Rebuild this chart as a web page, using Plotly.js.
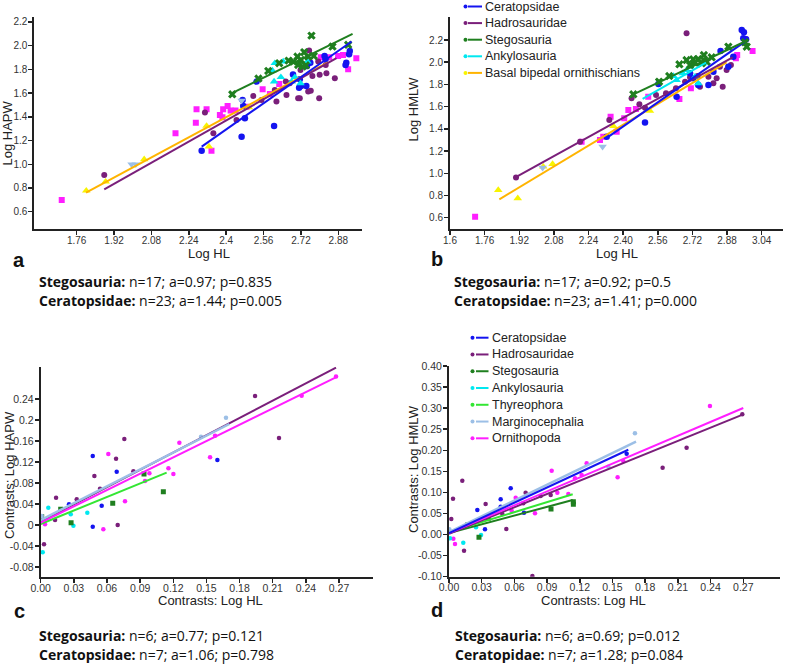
<!DOCTYPE html>
<html><head><meta charset="utf-8">
<script src="https://cdn.plot.ly/plotly-3.0.1.min.js"></script>
<style>html,body{margin:0;padding:0;background:#fff}#c{width:785px;height:665px}</style>
</head><body><div id="c"></div>
<script>
// ---------- DATA ----------
// Panel a: Log HL vs Log HAPW
const aCeraX = [2.295,2.466,2.470,2.473,2.480,2.530,2.605,2.686,2.712,2.743,2.718,2.746,2.760,2.821,2.825,2.914,2.911,2.926,2.929,2.715];
const aCeraY = [1.115,1.233,1.543,1.492,1.388,1.697,1.323,1.758,1.646,1.660,1.660,1.829,1.857,1.913,1.885,1.857,1.838,1.927,1.955,1.716];
const aHadroX = [1.878,2.309,2.345,2.444,2.516,2.551,2.608,2.615,2.655,2.672,2.658,2.708,2.715,2.718,2.751,2.762,2.798,2.755,2.769,2.865,2.826,2.829,2.800,2.722,2.794];
const aHadroY = [0.910,1.436,1.261,1.374,1.576,1.543,1.627,1.529,1.697,1.683,1.585,1.556,1.556,1.795,1.613,1.621,1.556,1.959,1.745,1.725,1.838,1.768,1.754,1.661,1.866];
const aStegX = [2.426,2.538,2.580,2.627,2.667,2.705,2.734,2.765,2.720,2.741,2.727,2.751,2.775,2.855,2.922,2.708,2.687];
const aStegY = [1.590,1.723,1.787,1.852,1.874,1.908,1.945,2.085,1.880,1.835,1.824,1.908,1.914,1.993,2.007,1.838,1.866];
const aAnkyX = [2.608,2.644,2.605,2.634,2.694,2.718,2.748,2.718,2.598,2.680];
const aAnkyY = [1.852,1.866,1.697,1.734,1.734,1.683,1.866,1.858,1.790,1.697];
const aBasalX = [1.801,1.884,2.049,2.326,2.316,2.497];
const aBasalY = [0.777,0.853,1.042,1.149,1.323,1.480];
const aOrnithX = [1.696,2.183,2.273,2.270,2.316,2.337,2.387,2.384,2.406,2.419,2.440,2.487,2.556,2.587,2.627,2.805,2.841,2.879,2.900,2.922,2.957,2.373];
const aOrnithY = [0.699,1.261,1.464,1.351,1.464,1.115,1.464,1.396,1.492,1.453,1.453,1.486,1.633,1.593,1.677,1.902,1.902,1.914,1.922,1.801,1.894,1.416];
const aMargX = [1.995,2.013,2.466];
const aMargY = [1.000,1.000,1.537];
const aFitStegX = [2.416,2.941], aFitStegY = [1.591,2.100];
const aFitCeraX = [2.295,2.937], aFitCeraY = [1.149,2.035];
const aFitHadroX = [1.878,2.872], aFitHadroY = [0.789,1.895];
const aFitBasalX = [1.800,2.836], aFitBasalY = [0.760,1.860];

// Panel b: Log HL vs Log HMLW
const bCeraX = [2.501,2.563,2.747,2.794,2.850,2.948,2.958,2.955,2.968,2.724,2.817,2.886,2.909,2.647,2.324,2.709];
const bCeraY = [1.458,1.804,1.795,1.795,2.101,2.290,2.269,2.215,2.206,1.855,1.915,1.960,2.050,1.690,1.329,1.900];
const bHadroX = [1.905,2.201,2.336,2.439,2.475,2.501,2.552,2.598,2.644,2.693,2.709,2.755,2.794,2.832,2.860,2.898,2.878,2.744,2.817,2.847,2.686];
const bHadroY = [0.963,1.284,1.480,1.675,1.621,1.591,1.705,1.720,1.765,2.260,1.864,1.780,1.870,1.855,1.780,1.975,1.930,1.876,1.810,1.960,1.825];
const bStegX = [2.447,2.566,2.613,2.660,2.693,2.732,2.747,2.773,2.763,2.786,2.809,2.886,2.963,2.971,2.709,2.724,2.773];
const bStegY = [1.711,1.825,1.876,1.981,2.020,1.996,2.029,2.065,1.990,2.005,2.044,2.140,2.179,2.140,1.975,2.026,2.020];
const bAnkyX = [2.632,2.675,2.693,2.732,2.747,2.770,2.647,2.709];
const bAnkyY = [1.876,1.900,1.930,1.870,1.810,1.990,1.840,1.960];
const bBasalX = [1.823,1.913,2.031,2.074,2.524,2.355];
const bBasalY = [0.849,0.774,1.059,1.083,1.561,1.425];
const bOrnithX = [1.716,2.208,2.308,2.342,2.370,2.424,2.459,2.405,2.516,2.660,2.713,2.921,2.963,2.998,2.927,2.293];
const bOrnithY = [0.609,1.284,1.329,1.510,1.374,1.570,1.579,1.495,1.690,1.669,1.765,2.035,2.206,2.101,2.065,1.299];
const bMargX = [2.305,2.028];
const bMargY = [1.239,1.050];
const bFitStegX = [2.447,2.978], bFitStegY = [1.711,2.200];
const bFitAnkyX = [2.490,2.783], bFitAnkyY = [1.669,1.996];
const bFitCeraX = [2.321,2.963], bFitCeraY = [1.314,2.185];
const bFitHadroX = [1.900,2.906], bFitHadroY = [0.960,2.044];
const bFitBasalX = [1.828,2.878], bFitBasalY = [0.765,1.999];

// Panel c: contrasts Log HL vs Log HAPW
const cCeraX = [0.0471,0.0688,0.0256,0.0552,0.0471,0.1599];
const cCeraY = [0.1314,0.1016,0.0394,0.0368,-0.0032,0.1238];
const cHadroX = [0.0030,0.0139,0.0130,0.0326,0.0486,0.0537,0.0682,0.0757,0.0697,0.0839,0.1940,0.2157];
const cHadroY = [-0.0368,0.0521,0.0095,0.0489,0.0933,0.0692,0.1264,0.1638,0.0,0.1022,0.2457,0.1657];
const cStegX = [0.0181,0.0275,0.0652,0.1110,0.0935,0.0009];
const cStegY = [0.0298,0.0044,0.0413,0.0635,0.0972,0.0159];
const cAnkyX = [0.0069,0.0018,0.0272,0.0296,0.0422];
const cAnkyY = [0.0330,-0.0521,0.0203,-0.0013,0.0235];
const cOrnithX = [0.0024,0.0039,0.0612,0.0763,0.0567,0.0944,0.0984,0.1156,0.1201,0.1255,0.1533,0.1578,0.2362,0.2673];
const cOrnithY = [0.0108,0.0013,0.1353,0.0451,-0.0083,0.0838,0.0984,0.1080,0.0972,0.1568,0.1289,0.1702,0.2464,0.2826];
const cMargX = [0.0009,0.1451,0.1677];
const cMargY = [0.0171,0.1683,0.2045];
const cFitHadroX = [0,0.2673], cFitHadroY = [0.0064,0.2997];
const cFitOrnithX = [0,0.2685], cFitOrnithY = [0.0044,0.2826];
const cFitMargX = [0,0.1708], cFitMargY = [0.0095,0.1924];
const cFitThyreoX = [0,0.1140], cFitThyreoY = [0.0019,0.0997];

// Panel d: contrasts Log HL vs Log HMLW
const dCeraX = [0.0260,0.0330,0.0474,0.0474,0.0566,0.1630,0.0688];
const dCeraY = [0.0583,0.0124,0.0836,0.0662,0.1097,0.1920,0.0520];
const dHadroX = [0.0021,0.0037,0.0122,0.0138,0.0336,0.0526,0.0703,0.0489,0.0765,0.0841,0.0933,0.1960,0.2180,0.2691,0.0682];
const dHadroY = [0.0369,0.0852,0.1279,-0.0382,0.0725,0.0132,0.0994,0.0488,-0.0983,0.0915,0.0939,0.1587,0.2062,0.2853,0.0741];
const dStegX = [0.0171,0.0275,0.0361,0.0936,0.1141,0.1141];
const dStegY = [0.0227,-0.0066,0.0385,0.0607,0.0717,0.0781];
const dAnkyX = [0.0009,0.0131,0.0294,0.0248];
const dAnkyY = [-0.0090,-0.0192,-0.0010,0.0172];
const dOrnithX = [0.0040,0.0055,0.0612,0.0575,0.0789,0.0942,0.0994,0.1095,0.1156,0.1217,0.1263,0.1547,0.1599,0.2394];
const dOrnithY = [-0.0097,-0.0224,0.0876,0.0567,0.0504,0.1516,0.0994,0.0963,0.1334,0.1413,0.1690,0.1358,0.1746,0.3051];
const dMargX = [0.0003,0.1462,0.1706];
const dMargY = [0.0124,0.1611,0.2402];
const dFitCeraX = [0,0.1645], dFitCeraY = [0.0034,0.2012];
const dFitMargX = [0,0.1716], dFitMargY = [0.0058,0.2204];
const dFitOrnithX = [0,0.2700], dFitOrnithY = [0.0034,0.3004];
const dFitHadroX = [0,0.2700], dFitHadroY = [0.0018,0.2853];
const dFitThyreoX = [0,0.1135], dFitThyreoY = [0.0058,0.0955];
const dFitStegX = [0,0.1135], dFitStegY = [0.0034,0.0820];

// Tick labels
const abYTicks = [0.6,0.8,1.0,1.2,1.4,1.6,1.8,2.0,2.2];
const abYLabels = ['0.6','0.8','1.0','1.2','1.4','1.6','1.8','2.0','2.2'];
const aXTicks = [1.76,1.92,2.08,2.24,2.4,2.56,2.72,2.88];
const aXLabels = ['1.76','1.92','2.08','2.24','2.4','2.56','2.72','2.88'];
const bXTicks = [1.6,1.76,1.92,2.08,2.24,2.4,2.56,2.72,2.88,3.04];
const bXLabels = ['1.6','1.76','1.92','2.08','2.24','2.40','2.56','2.72','2.88','3.04'];
const cdXTicks = [0,0.03,0.06,0.09,0.12,0.15,0.18,0.21,0.24,0.27];
const cdXLabels = ['0.00','0.03','0.06','0.09','0.12','0.15','0.18','0.21','0.24','0.27'];
const cYTicks = [-0.08,-0.04,0,0.04,0.08,0.12,0.16,0.2,0.24];
const cYLabels = ['-0.08','-0.04','0','0.04','0.08','0.12','0.16','0.2','0.24'];
const dYTicks = [-0.10,-0.05,0,0.05,0.10,0.15,0.20,0.25,0.30,0.35,0.40];
const dYLabels = ['-0.10','-0.05','0.00','0.05','0.10','0.15','0.20','0.25','0.30','0.35','0.40'];

// Legends and texts
const bLegendNames = ['Ceratopsidae','Hadrosauridae','Stegosauria','Ankylosauria','Basal bipedal ornithischians'];
const dLegendNames = ['Ceratopsidae','Hadrosauridae','Stegosauria','Ankylosauria','Thyreophora','Marginocephalia','Ornithopoda'];
const statsA = ['<b>Stegosauria:</b> n=17; a=0.97; p=0.835','<b>Ceratopsidae:</b> n=23; a=1.44; p=0.005'];
const statsB = ['<b>Stegosauria:</b> n=17; a=0.92; p=0.5','<b>Ceratopsidae:</b> n=23; a=1.41; p=0.000'];
const statsC = ['<b>Stegosauria:</b> n=6; a=0.77; p=0.121','<b>Ceratopsidae:</b> n=7; a=1.06; p=0.798'];
const statsD = ['<b>Stegosauria:</b> n=6; a=0.69; p=0.012','<b>Ceratopidae:</b> n=7; a=1.28; p=0.084'];

// ---------- STYLE ----------
const COL = {
  cera:'#1414f0', hadro:'#7a1f7a', steg:'#1f7f1f', anky:'#00e8f0',
  basal:'#f8f400', basalLine:'#ffb400', ornith:'#ff1eff', marg:'#9cbfe6', thyreo:'#33e633'
};
const W = 785, H = 665;
const dx = (a,b)=>[a/W,b/W];
const dy = (top,bot)=>[1-bot/H,1-top/H];

const traces = [];
function pts(x,y,ax,color,symbol,size){
  traces.push({type:'scatter',mode:'markers',x:x,y:y,xaxis:'x'+ax,yaxis:'y'+ax,
    marker:{color:color,symbol:symbol,size:size,line:{width:0}},hoverinfo:'skip'});
}
function fit(x,y,ax,color,w){
  traces.push({type:'scatter',mode:'lines',x:x,y:y,xaxis:'x'+ax,yaxis:'y'+ax,
    line:{color:color,width:w||2},hoverinfo:'skip'});
}
// panel a
pts(aOrnithX,aOrnithY,'',COL.ornith,'square',6);
pts(aHadroX,aHadroY,'',COL.hadro,'circle',6);
pts(aCeraX,aCeraY,'',COL.cera,'circle',6.5);
pts(aAnkyX,aAnkyY,'',COL.anky,'triangle-up',7.5);
pts(aBasalX,aBasalY,'',COL.basal,'triangle-up',7.5);
pts(aMargX,aMargY,'',COL.marg,'triangle-down',7.5);
pts(aStegX,aStegY,'',COL.steg,'x',7.5);
fit(aFitBasalX,aFitBasalY,'',COL.basalLine);
fit(aFitHadroX,aFitHadroY,'',COL.hadro);
fit(aFitCeraX,aFitCeraY,'',COL.cera);
fit(aFitStegX,aFitStegY,'',COL.steg);
// panel b
pts(bOrnithX,bOrnithY,'2',COL.ornith,'square',6);
pts(bHadroX,bHadroY,'2',COL.hadro,'circle',6);
pts(bCeraX,bCeraY,'2',COL.cera,'circle',6.5);
pts(bAnkyX,bAnkyY,'2',COL.anky,'triangle-up',7.5);
pts(bBasalX,bBasalY,'2',COL.basal,'triangle-up',7.5);
pts(bMargX,bMargY,'2',COL.marg,'triangle-down',7.5);
pts(bStegX,bStegY,'2',COL.steg,'x',7.5);
fit(bFitBasalX,bFitBasalY,'2',COL.basalLine);
fit(bFitHadroX,bFitHadroY,'2',COL.hadro);
fit(bFitCeraX,bFitCeraY,'2',COL.cera);
fit(bFitAnkyX,bFitAnkyY,'2',COL.anky);
fit(bFitStegX,bFitStegY,'2',COL.steg);
// panel c
pts(cHadroX,cHadroY,'3',COL.hadro,'circle',4.5);
pts(cOrnithX,cOrnithY,'3',COL.ornith,'circle',4.5);
pts(cCeraX,cCeraY,'3',COL.cera,'circle',4.5);
pts(cAnkyX,cAnkyY,'3',COL.anky,'circle',4.5);
pts(cStegX,cStegY,'3',COL.steg,'square',5);
pts(cMargX,cMargY,'3',COL.marg,'circle',4.5);
fit(cFitThyreoX,cFitThyreoY,'3',COL.thyreo);
fit(cFitHadroX,cFitHadroY,'3',COL.hadro);
fit(cFitOrnithX,cFitOrnithY,'3',COL.ornith);
fit(cFitMargX,cFitMargY,'3',COL.marg,2.5);
// panel d
pts(dHadroX,dHadroY,'4',COL.hadro,'circle',4.5);
pts(dOrnithX,dOrnithY,'4',COL.ornith,'circle',4.5);
pts(dCeraX,dCeraY,'4',COL.cera,'circle',4.5);
pts(dAnkyX,dAnkyY,'4',COL.anky,'circle',4.5);
pts(dStegX,dStegY,'4',COL.steg,'square',5);
pts(dMargX,dMargY,'4',COL.marg,'circle',4.5);
fit(dFitStegX,dFitStegY,'4',COL.steg);
fit(dFitThyreoX,dFitThyreoY,'4',COL.thyreo);
fit(dFitHadroX,dFitHadroY,'4',COL.hadro);
fit(dFitOrnithX,dFitOrnithY,'4',COL.ornith);
fit(dFitMargX,dFitMargY,'4',COL.marg,2.5);
fit(dFitCeraX,dFitCeraY,'4',COL.cera);

// legends on a full-page pixel overlay (x5/y5)
function legend(names, dotCols, lineCols, y0, gap, dotX, lineX0, lineX1, textX){
  const ann = [];
  names.forEach((n,i)=>{
    const y = y0 + i*gap;
    traces.push({type:'scatter',mode:'lines',x:[lineX0,lineX1],y:[y,y],xaxis:'x5',yaxis:'y5',
      line:{color:lineCols[i],width:2},hoverinfo:'skip'});
    traces.push({type:'scatter',mode:'markers',x:[dotX],y:[y],xaxis:'x5',yaxis:'y5',
      marker:{color:dotCols[i],size:4},hoverinfo:'skip'});
    ann.push({xref:'x5',yref:'y5',x:textX,y:y,text:n,showarrow:false,xanchor:'left',yanchor:'middle',
      font:{family:'Liberation Sans, Arial, sans-serif',size:12.5,color:'#222'}});
  });
  return ann;
}
const annB = legend(bLegendNames,[COL.cera,COL.hadro,COL.steg,COL.anky,COL.basal],
  [COL.cera,COL.hadro,COL.steg,COL.anky,COL.basalLine],6.5,16.6,465.5,468,482,483);
const annD = legend(dLegendNames,[COL.cera,COL.hadro,COL.steg,COL.anky,COL.thyreo,COL.marg,COL.ornith],
  [COL.cera,COL.hadro,COL.steg,COL.anky,COL.thyreo,COL.marg,COL.ornith],337.7,16.77,472.5,476,488.5,489.5);

function txt(x,y,t,opts){
  return Object.assign({xref:'x5',yref:'y5',x:x,y:y,text:t,showarrow:false,xanchor:'center',yanchor:'middle',
    font:{family:'Liberation Sans, Arial, sans-serif',size:13,color:'#222'}},opts||{});
}
const statFont = {family:'Open Sans, sans-serif',size:14,color:'#111'};
const letFont = {family:'Liberation Sans, Arial, sans-serif',size:20,color:'#111'};
const anns = [].concat(annB, annD, [
  txt(209,253,'Log HL'), txt(616.5,253,'Log HL'),
  txt(210.8,600.5,'Contrasts: Log HL'), txt(593,600.5,'Contrasts: Log HL'),
  txt(6.5,133,'Log HAPW',{textangle:-90}), txt(412.5,109,'Log HMLW',{textangle:-90}),
  txt(9,475,'Contrasts: Log HAPW',{textangle:-90}), txt(413.5,469.5,'Contrasts: Log HMLW',{textangle:-90}),
  txt(18.5,260,'<b>a</b>',{font:letFont}), txt(437,259,'<b>b</b>',{font:letFont}),
  txt(19.5,610.5,'<b>c</b>',{font:letFont}), txt(437,610,'<b>d</b>',{font:letFont}),
  txt(37,281,statsA[0],{xanchor:'left',font:statFont}), txt(37,300.5,statsA[1],{xanchor:'left',font:statFont}),
  txt(451.5,281,statsB[0],{xanchor:'left',font:statFont}), txt(451.5,300.5,statsB[1],{xanchor:'left',font:statFont}),
  txt(37,635,statsC[0],{xanchor:'left',font:statFont}), txt(37,654.5,statsC[1],{xanchor:'left',font:statFont}),
  txt(453,635,statsD[0],{xanchor:'left',font:statFont}), txt(453,654.5,statsD[1],{xanchor:'left',font:statFont})
]);

const tickFontAB = {family:'Liberation Sans, Arial, sans-serif',size:10,color:'#333'};
const tickFontCD = {family:'Liberation Sans, Arial, sans-serif',size:10.5,color:'#333'};
function axis(domain, range, anchor, tv, tt, font, standoff){
  return {domain:domain, range:range, anchor:anchor, tickmode:'array', tickvals:tv, ticktext:tt,
    showline:true, linecolor:'#222', linewidth:2, ticks:'outside', ticklen:4, tickwidth:1.5, tickcolor:'#222',
    showgrid:false, zeroline:false, tickfont:font, fixedrange:true, ticklabelstandoff:standoff};
}
const layout = {
  width:W, height:H, margin:{l:0,r:0,t:0,b:0}, showlegend:false, hovermode:false,
  paper_bgcolor:'#fff', plot_bgcolor:'rgba(0,0,0,0)',
  xaxis: axis(dx(34.3,361.7),[1.5786,2.98],'y',aXTicks,aXLabels,tickFontAB,-3),
  yaxis: axis(dy(17,229.3),[0.4515,2.242],'x',abYTicks,abYLabels,tickFontAB,-1),
  xaxis2: axis(dx(450,783.3),[1.6,3.14],'y2',bXTicks,bXLabels,tickFontAB,-3),
  yaxis2: axis(dy(16.7,229.3),[0.4955,2.41],'x2',abYTicks,abYLabels,tickFontAB,-1),
  xaxis3: axis(dx(40.7,372.7),[0,0.3005],'y3',cdXTicks,cdXLabels,tickFontCD,-4),
  yaxis3: axis(dy(366.7,577),[-0.099,0.3015],'x3',cYTicks,cYLabels,tickFontCD,-1),
  xaxis4: axis(dx(449,780),[0,0.3037],'y4',cdXTicks,cdXLabels,tickFontCD,-4),
  yaxis4: axis(dy(366,576.7),[-0.1,0.40],'x4',dYTicks,dYLabels,tickFontCD,-1),
  xaxis5: {domain:[0,1], range:[0,W], anchor:'y5', visible:false, fixedrange:true},
  yaxis5: {domain:[0,1], range:[H,0], anchor:'x5', visible:false, fixedrange:true},
  annotations: anns
};
Plotly.newPlot('c', traces, layout, {displayModeBar:false, staticPlot:true});
</script></body></html>
